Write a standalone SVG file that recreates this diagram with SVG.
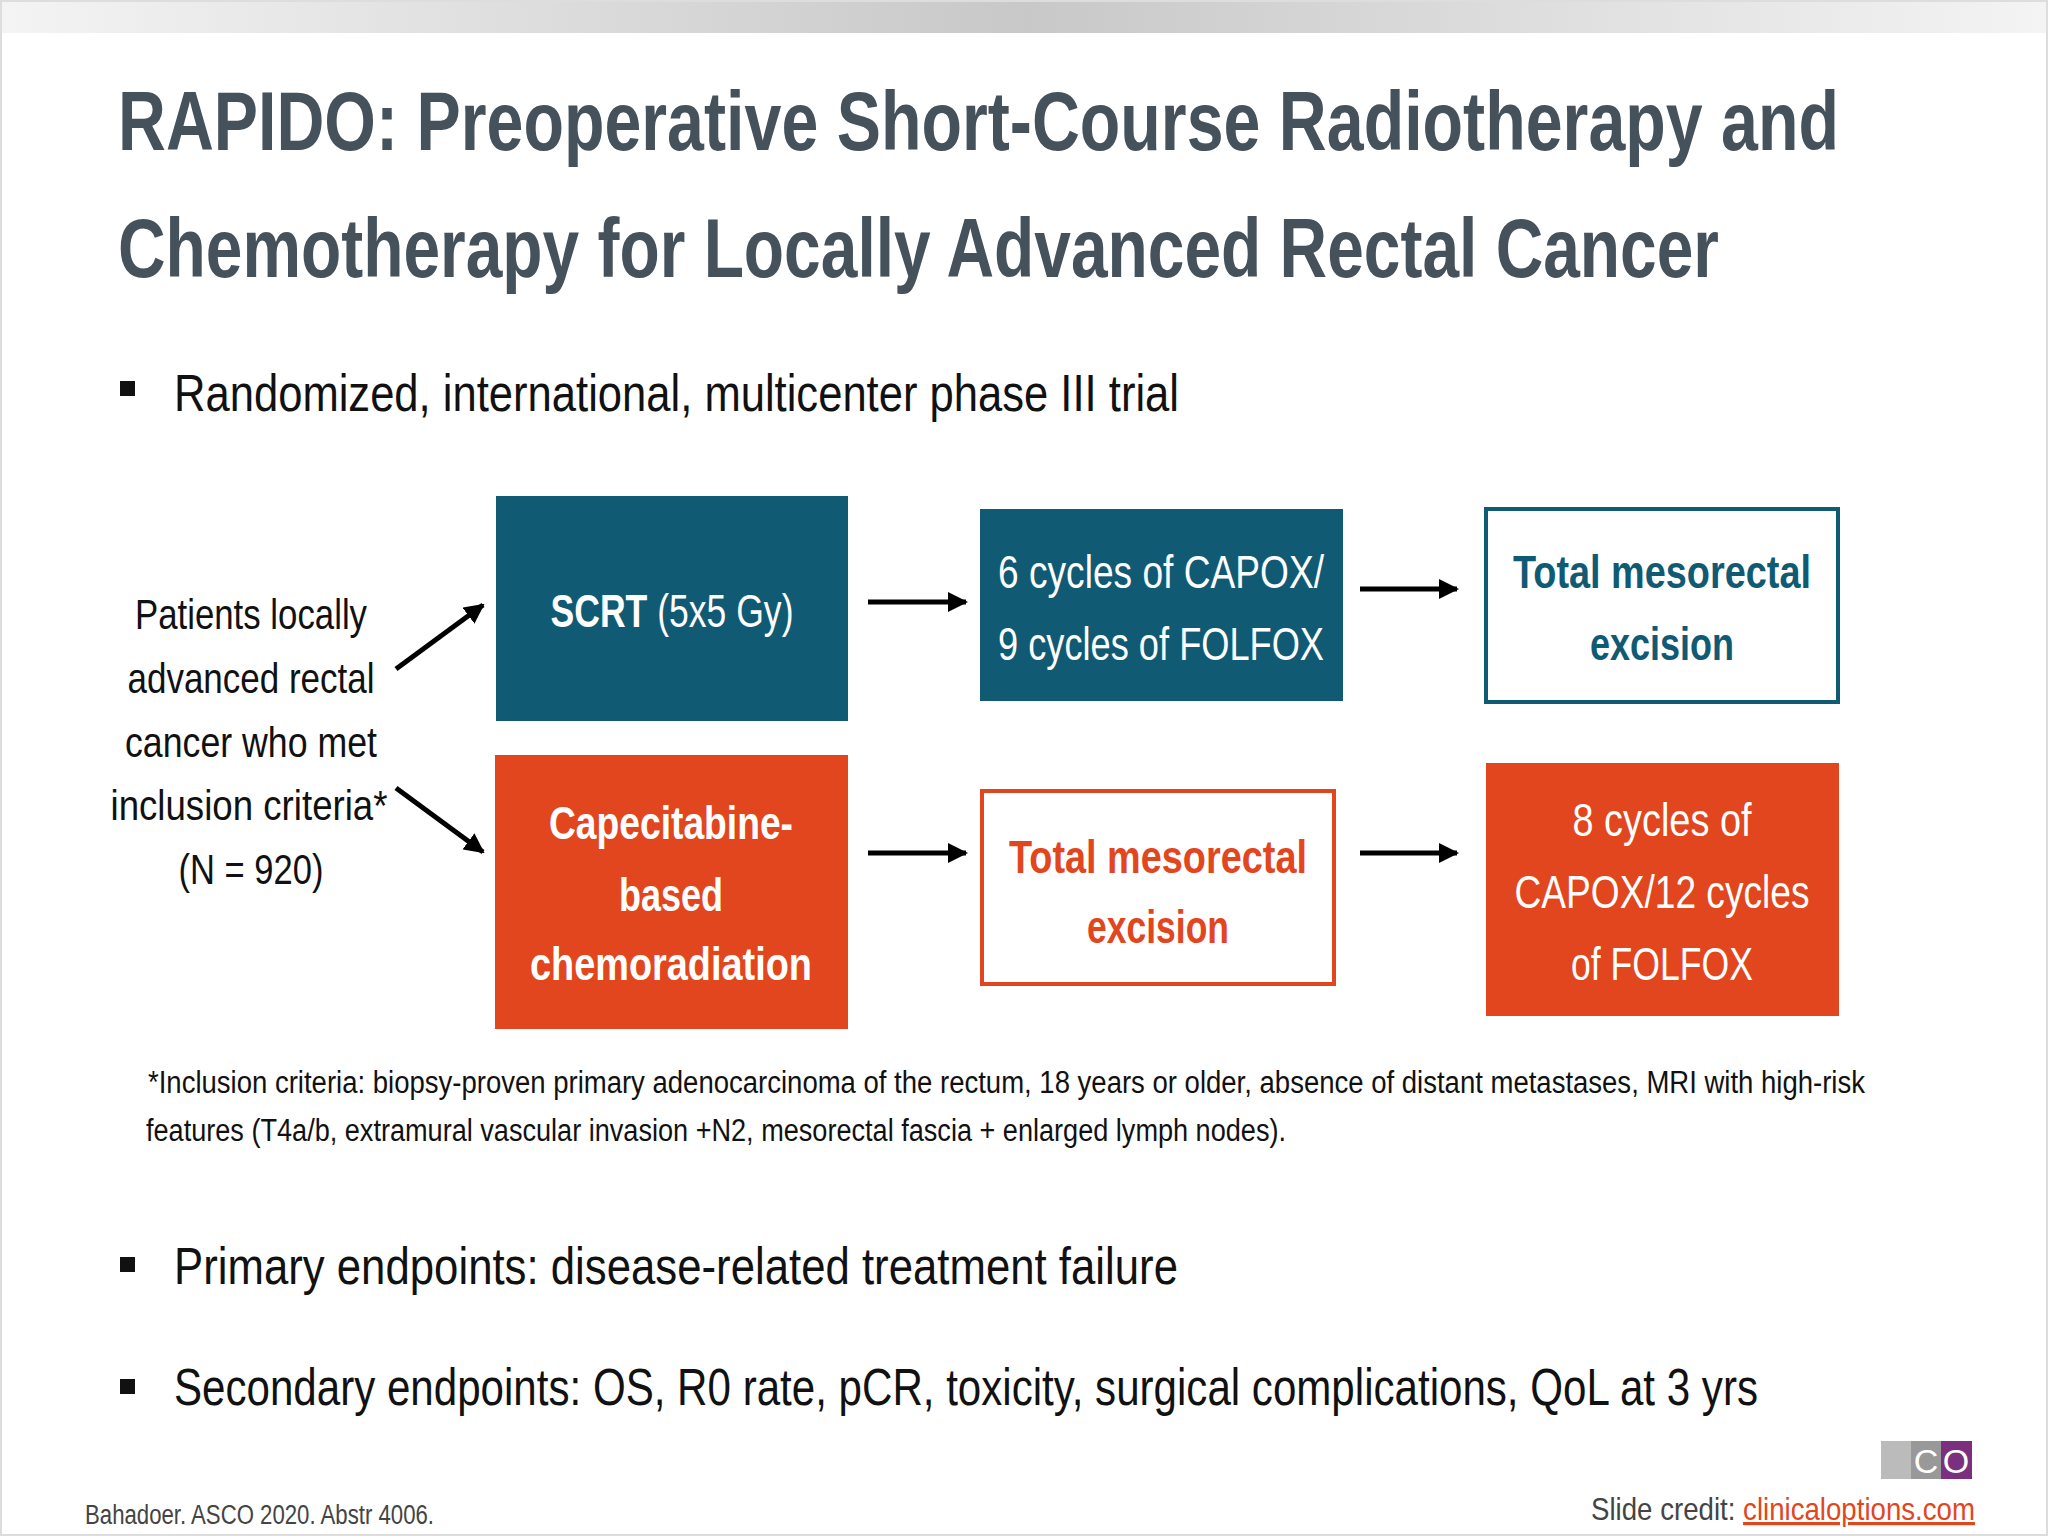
<svg xmlns="http://www.w3.org/2000/svg" width="2048" height="1536" viewBox="0 0 2048 1536">
<defs>
<linearGradient id="top" x1="0" x2="1" y1="0" y2="0"><stop offset="0" stop-color="#f4f4f4"/><stop offset="0.5" stop-color="#c8c8c8"/><stop offset="1" stop-color="#f4f4f4"/></linearGradient>
<marker id="ah" viewBox="0 0 10 10" refX="9" refY="5" markerWidth="4" markerHeight="4" orient="auto"><path d="M0,0 L10,5 L0,10 z" fill="#000"/></marker>
<style>
text{font-family:"Liberation Sans Narrow","Liberation Sans",Arial,sans-serif}
.title{font-size:84px;font-weight:bold;fill:#45525c}
.bul{font-size:52px;fill:#111}
.box{font-size:46px;fill:#fff;text-anchor:middle}
.b{font-weight:bold}
.left{font-size:42px;fill:#111;text-anchor:middle}
.arr{stroke:#000;stroke-width:5;fill:none;marker-end:url(#ah)}
</style>
</defs>
<rect width="2048" height="1536" fill="#fff"/>
<rect width="2048" height="33" fill="url(#top)"/>
<rect x="1" y="1" width="2046" height="1534" fill="none" stroke="#ddd" stroke-width="2"/>
<text class="title" x="118" y="150" textLength="1721" lengthAdjust="spacingAndGlyphs">RAPIDO: Preoperative Short-Course Radiotherapy and</text>
<text class="title" x="118" y="277" textLength="1601" lengthAdjust="spacingAndGlyphs">Chemotherapy for Locally Advanced Rectal Cancer</text>
<rect x="120" y="381" width="15" height="15" fill="#111"/>
<text class="bul" x="174" y="411" textLength="1005" lengthAdjust="spacingAndGlyphs">Randomized, international, multicenter phase III trial</text>
<g id="patients">
<text class="left" x="251" y="629" textLength="232" lengthAdjust="spacingAndGlyphs">Patients locally</text>
<text class="left" x="251" y="693" textLength="247" lengthAdjust="spacingAndGlyphs">advanced rectal</text>
<text class="left" x="251" y="757" textLength="252" lengthAdjust="spacingAndGlyphs">cancer who met</text>
<text class="left" x="249" y="820" textLength="277" lengthAdjust="spacingAndGlyphs">inclusion criteria*</text>
<text class="left" x="251" y="884" textLength="145" lengthAdjust="spacingAndGlyphs">(N = 920)</text>
</g>
<g id="scrt"><rect x="496" y="496" width="352" height="225" fill="#115a74"/>
<text class="box" x="672" y="627" textLength="243" lengthAdjust="spacingAndGlyphs"><tspan class="b">SCRT</tspan> (5x5 Gy)</text></g>
<g id="capox6"><rect x="980" y="509" width="363" height="192" fill="#115a74"/>
<text class="box" x="1161" y="588" textLength="326" lengthAdjust="spacingAndGlyphs">6 cycles of CAPOX/</text><text class="box" x="1161" y="660" textLength="326" lengthAdjust="spacingAndGlyphs">9 cycles of FOLFOX</text></g>
<g id="tme1"><rect x="1486" y="509" width="352" height="193" fill="#fff" stroke="#115a74" stroke-width="4"/>
<text class="box b" x="1662" y="588" style="fill:#115a74" textLength="298" lengthAdjust="spacingAndGlyphs">Total mesorectal</text><text class="box b" x="1662" y="660" style="fill:#115a74" textLength="144" lengthAdjust="spacingAndGlyphs">excision</text></g>
<g id="crt"><rect x="495" y="755" width="353" height="274" fill="#e2461e"/>
<text class="box b" x="671" y="839" textLength="244" lengthAdjust="spacingAndGlyphs">Capecitabine-</text><text class="box b" x="671" y="911" textLength="104" lengthAdjust="spacingAndGlyphs">based</text><text class="box b" x="671" y="980" textLength="282" lengthAdjust="spacingAndGlyphs">chemoradiation</text></g>
<g id="tme2"><rect x="982" y="791" width="352" height="193" fill="#fff" stroke="#e2461e" stroke-width="4"/>
<text class="box b" x="1158" y="873" style="fill:#e2461e" textLength="298" lengthAdjust="spacingAndGlyphs">Total mesorectal</text><text class="box b" x="1158" y="943" style="fill:#e2461e" textLength="142" lengthAdjust="spacingAndGlyphs">excision</text></g>
<g id="capox8"><rect x="1486" y="763" width="353" height="253" fill="#e2461e"/>
<text class="box" x="1662" y="836" textLength="179" lengthAdjust="spacingAndGlyphs">8 cycles of</text><text class="box" x="1662" y="908" textLength="295" lengthAdjust="spacingAndGlyphs">CAPOX/12 cycles</text><text class="box" x="1662" y="980" textLength="182" lengthAdjust="spacingAndGlyphs">of FOLFOX</text></g>
<g id="connectors">
<line class="arr" x1="396" y1="669" x2="483" y2="605"/>
<line class="arr" x1="396" y1="788" x2="483" y2="852"/>
<line class="arr" x1="868" y1="602" x2="966" y2="602"/>
<line class="arr" x1="1360" y1="589" x2="1457" y2="589"/>
<line class="arr" x1="868" y1="853" x2="966" y2="853"/>
<line class="arr" x1="1360" y1="853" x2="1457" y2="853"/>
</g>
<text x="148" y="1093" font-size="31" fill="#111" textLength="1717" lengthAdjust="spacingAndGlyphs">*Inclusion criteria: biopsy-proven primary adenocarcinoma of the rectum, 18 years or older, absence of distant metastases, MRI with high-risk</text>
<text x="146" y="1141" font-size="31" fill="#111" textLength="1140" lengthAdjust="spacingAndGlyphs">features (T4a/b, extramural vascular invasion +N2, mesorectal fascia + enlarged lymph nodes).</text>
<rect x="120" y="1257" width="15" height="15" fill="#111"/>
<text class="bul" x="174" y="1284" textLength="1004" lengthAdjust="spacingAndGlyphs">Primary endpoints: disease-related treatment failure</text>
<rect x="120" y="1379" width="15" height="15" fill="#111"/>
<text class="bul" x="174" y="1405" textLength="1584" lengthAdjust="spacingAndGlyphs">Secondary endpoints: OS, R0 rate, pCR, toxicity, surgical complications, QoL at 3 yrs</text>
<text x="85" y="1524" font-size="27" fill="#444" textLength="349" lengthAdjust="spacingAndGlyphs">Bahadoer. ASCO 2020. Abstr 4006.</text>
<text x="1591" y="1520" font-size="32" fill="#444" textLength="384" lengthAdjust="spacingAndGlyphs">Slide credit: <tspan fill="#e2461e" text-decoration="underline">clinicaloptions.com</tspan></text>
<g id="logo"><rect x="1881" y="1441" width="30" height="38" fill="#bbb"/><rect x="1911" y="1441" width="30" height="38" fill="#999"/><rect x="1941" y="1441" width="31" height="38" fill="#7a2f7f"/>
<text x="1926" y="1473" font-size="34" fill="#fff" text-anchor="middle">C</text><text x="1956" y="1473" font-size="34" fill="#fff" text-anchor="middle">O</text></g>
</svg>
